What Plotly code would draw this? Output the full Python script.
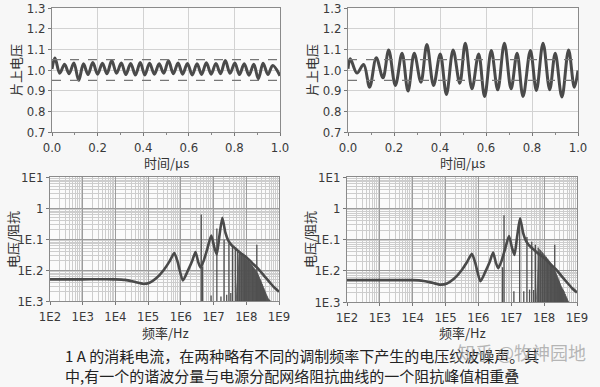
import plotly.graph_objects as go

# ---------------- data ----------------
# top-left: on-chip voltage (V) vs time (us)
t_left = [0.000, 0.013, 0.034, 0.055, 0.075, 0.096, 0.117, 0.138, 0.158, 0.179, 0.200, 0.221,
          0.241, 0.262, 0.283, 0.304, 0.324, 0.345, 0.366, 0.387, 0.407, 0.428, 0.449, 0.470,
          0.490, 0.511, 0.532, 0.553, 0.573, 0.594, 0.615, 0.636, 0.656, 0.677, 0.698, 0.719,
          0.739, 0.760, 0.781, 0.802, 0.822, 0.843, 0.864, 0.885, 0.905, 0.926, 0.947, 0.968, 1.000]
v_left = [1.005, 1.058, 0.984, 1.028, 0.982, 1.034, 0.950, 1.030, 0.978, 1.036, 0.980, 1.033,
          0.982, 1.046, 0.984, 1.034, 0.978, 1.032, 0.976, 1.036, 0.976, 1.033, 0.980, 1.030,
          0.984, 1.045, 0.982, 1.034, 0.980, 1.032, 0.976, 1.030, 0.978, 1.035, 0.980, 1.032,
          0.982, 1.046, 0.984, 1.034, 0.978, 1.030, 0.975, 1.028, 0.958, 1.033, 0.978, 1.022, 0.972]

# top-right
t_right = [0.000, 0.010, 0.039, 0.068, 0.094, 0.123, 0.152, 0.177, 0.206, 0.235, 0.261, 0.288,
           0.317, 0.343, 0.372, 0.401, 0.428, 0.457, 0.486, 0.510, 0.539, 0.568, 0.594, 0.623,
           0.651, 0.680, 0.709, 0.735, 0.761, 0.793, 0.819, 0.848, 0.877, 0.901, 0.930, 0.959,
           0.984, 1.000]
v_right = [1.006, 1.054, 0.985, 1.027, 0.917, 1.059, 0.962, 1.097, 0.925, 1.081, 0.898, 1.081,
           0.941, 1.123, 0.925, 1.078, 0.882, 1.097, 0.936, 1.130, 0.909, 1.078, 0.872, 1.094,
           0.904, 1.130, 0.909, 1.081, 0.872, 1.094, 0.901, 1.130, 0.904, 1.081, 0.869, 1.097,
           0.917, 0.998]

ripple_band = [0.95, 1.05]

# PDN impedance curve (same for both lower panels)
z_freq = [1e2, 1e3, 1e4, 2e4, 4e4, 7e4, 1.1e5, 1.8e5, 3e5, 4.5e5, 6.3e5, 8e5, 1.15e6, 1.6e6,
          2.2e6, 2.8e6, 3.4e6, 4.0e6, 5.0e6, 6.5e6, 8.5e6, 1.05e7, 1.25e7, 1.5e7, 1.85e7,
          2.3e7, 2.8e7, 3.6e7, 5e7, 7e7, 1e8, 1.5e8, 2.3e8, 3.5e8, 5e8, 7e8, 1e9]
z_val = [5.0e-3, 5.0e-3, 5.0e-3, 4.8e-3, 4.1e-3, 3.6e-3, 3.9e-3, 5.5e-3, 1.0e-2, 1.9e-2,
         3.5e-2, 1.8e-2, 4.6e-3, 9.0e-3, 1.9e-2, 3.8e-2, 1.8e-2, 1.2e-2, 2.0e-2, 5.0e-2,
         1.3e-1, 5.5e-2, 3.2e-2, 1.2e-1, 4.8e-1, 1.6e-1, 9.0e-2, 6.2e-2, 4.6e-2, 3.4e-2,
         2.6e-2, 1.7e-2, 1.1e-2, 6.5e-3, 4.2e-3, 2.8e-3, 2.0e-3]

# harmonic spikes (MHz, V)
spk_left_f = [4.2, 4.6, 8.4, 12.6, 16.8, 21.0, 25.2, 29.4, 33.6, 37.8, 46.2, 54.6, 63.0, 71.4,
              79.8, 88.2, 96.6, 105, 115, 128, 140, 155, 170, 185, 200, 210, 215, 230, 245, 260,
              275, 290, 305, 320, 340, 360, 380, 400, 430, 460, 500, 540]
spk_left_v = [0.62, 0.013, 0.0015, 0.22, 0.0014, 0.095, 0.0016, 0.072, 0.0018, 0.058, 0.050,
              0.044, 0.040, 0.035, 0.031, 0.027, 0.024, 0.022, 0.020, 0.018, 0.016, 0.014, 0.012,
              0.0105, 0.009, 0.065, 0.008, 0.007, 0.006, 0.0052, 0.0046, 0.004, 0.0035, 0.003,
              0.0026, 0.0022, 0.0019, 0.0016, 0.0014, 0.0012, 0.0011, 0.00102]
# envelope of the dense harmonic comb (MHz, V)
comb_left_f = [48, 60, 80, 100, 130, 170, 210, 260, 320, 400, 470, 545]
comb_left_v = [0.0012, 0.036, 0.030, 0.022, 0.017, 0.012, 0.0088, 0.0052, 0.003, 0.0016, 0.0012, 0.001]

spk_right_f = [5.4, 6.0, 12.0, 18.0, 24.0, 30.0, 36.0, 42.0, 48.0, 54.0, 66.0, 78.0, 90.0, 102,
               115, 128, 140, 155, 170, 185, 200, 210, 215, 230, 245, 260, 275, 290, 305, 320,
               340, 360, 380, 400, 430, 460, 490, 520, 550]
spk_right_v = [0.013, 0.60, 0.0022, 0.47, 0.0022, 0.12, 0.0025, 0.085, 0.0024, 0.068, 0.055,
               0.045, 0.038, 0.032, 0.028, 0.024, 0.021, 0.018, 0.015, 0.013, 0.011, 0.068,
               0.0095, 0.0082, 0.007, 0.006, 0.0052, 0.0045, 0.0039, 0.0034, 0.0029, 0.0026,
               0.0024, 0.0022, 0.0018, 0.0015, 0.0013, 0.0011, 0.00102]
comb_right_f = [58, 70, 90, 110, 140, 175, 215, 260, 320, 400, 470, 555]
comb_right_v = [0.0012, 0.05, 0.038, 0.030, 0.021, 0.0145, 0.0098, 0.006, 0.0034, 0.0022, 0.0014, 0.001]

time_ticks = [0.0, 0.2, 0.4, 0.6, 0.8, 1.0]
time_ticktext = ["0.0", "0.2", "0.4", "0.6", "0.8", "1.0"]
volt_ticks = [0.7, 0.8, 0.9, 1.0, 1.1, 1.2, 1.3]
volt_ticktext = ["0.7", "0.8", "0.9", "1.0", "1.1", "1.2", "1.3"]
freq_ticks = [1e2, 1e3, 1e4, 1e5, 1e6, 1e7, 1e8, 1e9]
freq_ticktext = ["1E2", "1E3", "1E4", "1E5", "1E6", "1E7", "1E8", "1E9"]
z_ticks = [1e1, 1, 1e-1, 1e-2, 1e-3]
z_ticktext = ["1E1", "1", "1E.1", "1E.2", "1E.3"]
z_floor = 1e-3

# ---------------- figure ----------------
INK = "#4a4a4a"
TICKFONT = dict(family="Liberation Sans Narrow, Arial Narrow, DejaVu Sans Condensed, Liberation Sans, Arial",
                size=13, color="#3a3a3a")
CJK = "Noto Sans CJK SC"

fig = go.Figure()


def spikes(fs, vs):
    xs, ys = [], []
    for f, v in zip(fs, vs):
        xs += [f * 1e6, f * 1e6, None]
        ys += [z_floor, v, None]
    return xs, ys


fig.add_trace(go.Scatter(x=t_left, y=v_left, mode="lines", line=dict(color=INK, width=3, shape="spline"),
                         xaxis="x", yaxis="y", showlegend=False))
fig.add_trace(go.Scatter(x=t_right, y=v_right, mode="lines", line=dict(color=INK, width=3, shape="spline"),
                         xaxis="x2", yaxis="y2", showlegend=False))

for ax, fs, vs, cf, cv in (("3", spk_left_f, spk_left_v, comb_left_f, comb_left_v),
                           ("4", spk_right_f, spk_right_v, comb_right_f, comb_right_v)):
    poly_x = [f * 1e6 for f in cf] + [cf[-1] * 1e6, cf[0] * 1e6]
    poly_y = list(cv) + [z_floor, z_floor]
    fig.add_trace(go.Scatter(x=poly_x, y=poly_y, mode="lines", fill="toself",
                             fillcolor="rgba(85,85,85,0.85)", line=dict(color="rgba(85,85,85,0.6)", width=0.8),
                             xaxis="x" + ax, yaxis="y" + ax, showlegend=False))
    sx, sy = spikes(fs, vs)
    fig.add_trace(go.Scatter(x=sx, y=sy, mode="lines", line=dict(color="#505050", width=1.3),
                             xaxis="x" + ax, yaxis="y" + ax, showlegend=False, connectgaps=False))
    fig.add_trace(go.Scatter(x=z_freq, y=z_val, mode="lines",
                             line=dict(color=INK, width=2.6, shape="spline", smoothing=0.6),
                             xaxis="x" + ax, yaxis="y" + ax, showlegend=False))

for yref, xref in (("y", "x"), ("y2", "x2")):
    for lvl in ripple_band:
        fig.add_shape(type="line", xref=xref + " domain", yref=yref, x0=0, x1=1, y0=lvl, y1=lvl,
                      line=dict(color="#777777", width=1.2, dash="dash"))

common = dict(showline=True, linecolor="#8a8a8a", mirror=True, zeroline=False, tickfont=TICKFONT,
              automargin=False, ticks="outside", ticklen=3, tickcolor="#777", tickmode="array",
              ticklabeloverflow="allow")
time_x = dict(common, type="linear", range=[0, 1], tickvals=time_ticks, ticktext=time_ticktext,
              showgrid=True, gridcolor="#d2d2d2", gridwidth=1,
              minor=dict(dtick=0.1, ticks="outside", ticklen=2, tickcolor="#888", showgrid=False))
volt_y = dict(common, type="linear", range=[0.7, 1.3], tickvals=volt_ticks, ticktext=volt_ticktext,
              showgrid=True, gridcolor="#d2d2d2", gridwidth=1)
freq_x = dict(common, type="log", range=[2, 9], tickvals=freq_ticks, ticktext=freq_ticktext,
              showgrid=True, gridcolor="#9c9c9c", gridwidth=1,
              minor=dict(dtick="D1", showgrid=True, gridcolor="#cdcdcd", ticks=""))
z_y = dict(common, type="log", range=[-3, 1], tickvals=z_ticks, ticktext=z_ticktext,
           showgrid=True, gridcolor="#9c9c9c", gridwidth=1,
           minor=dict(dtick="D1", showgrid=True, gridcolor="#cdcdcd", ticks=""))

H = 387.0
fig.update_layout(
    width=600, height=387, margin=dict(l=0, r=0, t=0, b=0, autoexpand=False),
    paper_bgcolor="#f7f7f7", plot_bgcolor="#fbfbfb",
    xaxis=dict(time_x, domain=[52 / 600, 280 / 600], anchor="y"),
    yaxis=dict(volt_y, domain=[1 - 132 / H, 1 - 8 / H], anchor="x"),
    xaxis2=dict(time_x, domain=[348 / 600, 578 / 600], anchor="y2"),
    yaxis2=dict(volt_y, domain=[1 - 132 / H, 1 - 8 / H], anchor="x2"),
    xaxis3=dict(freq_x, domain=[50 / 600, 279 / 600], anchor="y3"),
    yaxis3=dict(z_y, domain=[1 - 301 / H, 1 - 177 / H], anchor="x3"),
    xaxis4=dict(freq_x, domain=[347 / 600, 577 / 600], anchor="y4"),
    yaxis4=dict(z_y, domain=[1 - 302 / H, 1 - 177 / H], anchor="x4"),
)


def px_ann(text, x, y, size=13, angle=0, xanchor="center", color="#333333", family=CJK):
    fig.add_annotation(text=text, x=x / 600, y=1 - y / H, xref="paper", yref="paper",
                       showarrow=False, textangle=angle, xanchor=xanchor, yanchor="middle",
                       font=dict(family=family, size=size, color=color))


px_ann("片上电压", 16, 70, angle=-90)
px_ann("时间/μs", 166, 163)
px_ann("片上电压", 312, 70, angle=-90)
px_ann("时间/μs", 463, 163)
px_ann("电压/阻抗", 12, 240, angle=-90)
px_ann("频率/Hz", 165, 332)
px_ann("电压/阻抗", 309, 240, angle=-90)
px_ann("频率/Hz", 462, 332)

px_ann("1 A 的消耗电流，在两种略有不同的调制频率下产生的电压纹波噪声。其", 63, 355, size=15,
       xanchor="left", color="#222222")
px_ann("中,有一个的谐波分量与电源分配网络阻抗曲线的一个阻抗峰值相重叠", 63, 375, size=15,
       xanchor="left", color="#222222")
px_ann("知乎 @牧神园地", 455, 352, size=18, xanchor="left", color="rgba(160,160,160,0.75)")

fig.write_html("out.html", config={"displayModeBar": False},
               post_script="document.body.style.margin='0';document.body.style.overflow='hidden';")
